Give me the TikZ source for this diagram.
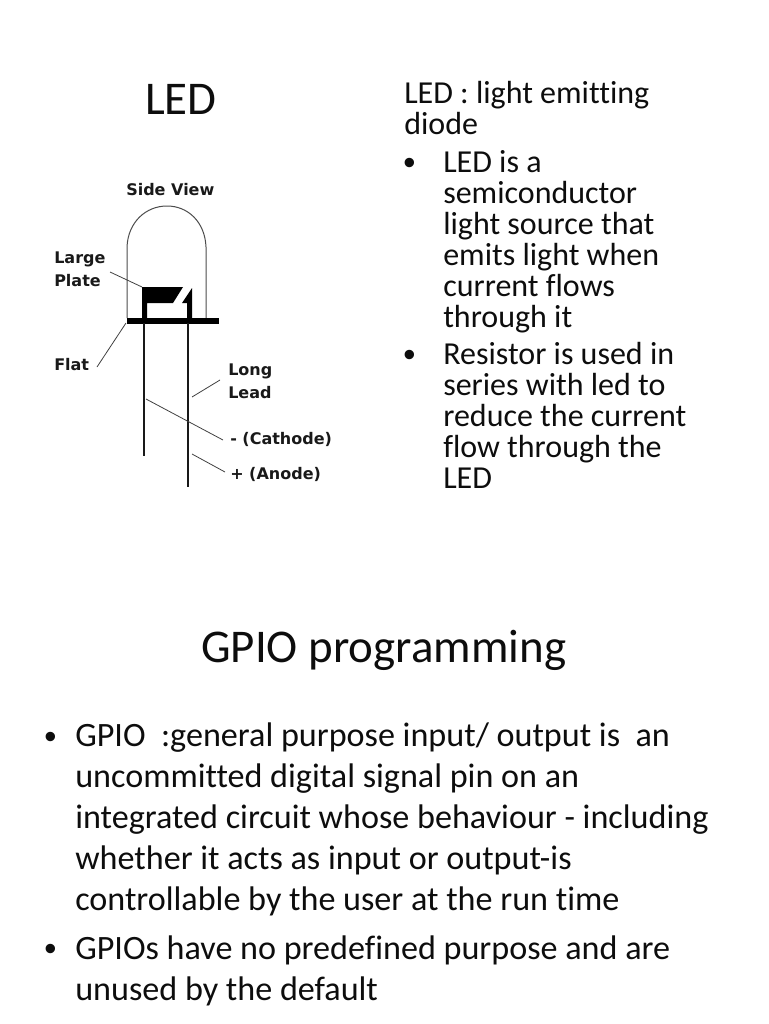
\documentclass[tikz,border=0pt]{standalone}
\usepackage{fontspec}
\setmainfont[Ligatures={NoCommon}]{Carlito}
\newfontfamily\ledfont{DejaVu Sans}
\newfontfamily\bulletfont{Liberation Sans}
\tikzset{
	slidetitle/.style={inner sep=0pt, anchor=base west, align=left, text=black!95, font=\fontsize{35.2}{42}\selectfont},
	ledtext/.style={inner sep=0pt, anchor=base west, align=left, text=black!95, font=\fontsize{24}{23.25}\selectfont},
	gpiotext/.style={inner sep=0pt, anchor=base west, align=left, text=black!95, font=\fontsize{25.6}{30.75}\selectfont},
	bulletmark/.style={inner sep=0pt, anchor=base west, text=black!95, font=\bulletfont\fontsize{26}{30}\selectfont},
	ledlabel/.style={inner sep=0pt, anchor=base west, align=left, font=\ledfont\bfseries\fontsize{12}{17.25}\selectfont, text=black!90},
	ledline/.style={line width=1.1pt, color=black!90},
	lensline/.style={line width=0.75pt, color=black!70},
	leader/.style={line width=0.6pt, color=black!75}
}
\begin{document}
\begin{tikzpicture}[x=0.75pt, y=-0.75pt]
			%%%%% START %%%%%
			\useasboundingbox (0, 0) rectangle (768, 1024);

			\node[slidetitle] (ledtitle) at (145, 114) {LED};
			\node[slidetitle] (gpiotitle) at (201, 662) {GPIO programming};

			\node[ledtext] (ledintro) at (404, 134) {LED : light emitting\\diode};
			\node[bulletmark] (bulleta) at (403, 174) {•};
			\node[ledtext] (ledtexta) at (443, 327) {LED is a\\semiconductor\\light source that\\emits light when\\current flows\\through it};
			\node[bulletmark] (bulletb) at (403, 366) {•};
			\node[ledtext] (ledtextb) at (443, 488) {Resistor is used in\\series with led to\\reduce the current\\flow through the\\LED};

			\node[bulletmark] (bulletc) at (44, 748) {•};
			\node[gpiotext] (gpiotexta) at (75, 910) {GPIO\ \ :general purpose input/ output is\ \ an\\uncommitted digital signal pin on an\\integrated circuit whose behaviour - including\\whether it acts as input or output-is\\controllable by the user at the run time};
			\node[bulletmark] (bulletd) at (44, 960) {•};
			\node[gpiotext] (gpiotextb) at (75, 1000) {GPIOs have no predefined purpose and are\\unused by the default};

			% lens and base
			\draw[lensline] (127, 318) -- (127, 247) .. controls (128, 222) and (146, 206) .. (167, 206) .. controls (188, 206) and (205, 222) .. (206, 247) -- (206, 318);
			\draw[fill=black] (127, 318) rectangle (218, 323);

			% plate
			\draw[fill=black, draw=none] (142, 287) -- (183, 287) -- (173, 303) -- (147, 303) -- (147, 318) -- (142, 318) -- cycle;
			\draw[fill=black, draw=none] (192, 288) -- (192, 318) -- (187, 318) -- (187, 303) -- (182, 303) -- cycle;

			% leads
			\coordinate (cathodetop) at (144, 323);
			\coordinate (cathodeend) at (144, 456);
			\coordinate (anodetop) at (188, 323);
			\coordinate (anodeend) at (188, 487);
			\draw[ledline] (cathodetop) -- (cathodeend);
			\draw[ledline] (anodetop) -- (anodeend);

			\node[ledlabel] (sideview) at (126, 195) {Side View};
			\node[ledlabel] (largeplate) at (54, 286) {Large\\Plate};
			\node[ledlabel] (flat) at (54, 370) {Flat};
			\node[ledlabel] (longlead) at (228, 398) {Long\\Lead};
			\node[ledlabel] (cathode) at (230, 444) {- (Cathode)};
			\node[ledlabel] (anode) at (230, 479) {+ (Anode)};

			\draw[leader] (110, 272) -- (142, 287);
			\draw[leader] (97, 367) -- (126, 323);
			\draw[leader] (192, 397) -- (220, 380);
			\draw[leader] (146, 399) -- (223, 440);
			\draw[leader] (192, 454) -- (225, 472);
			%%%%% END %%%%%
		\end{tikzpicture}
\end{document}
